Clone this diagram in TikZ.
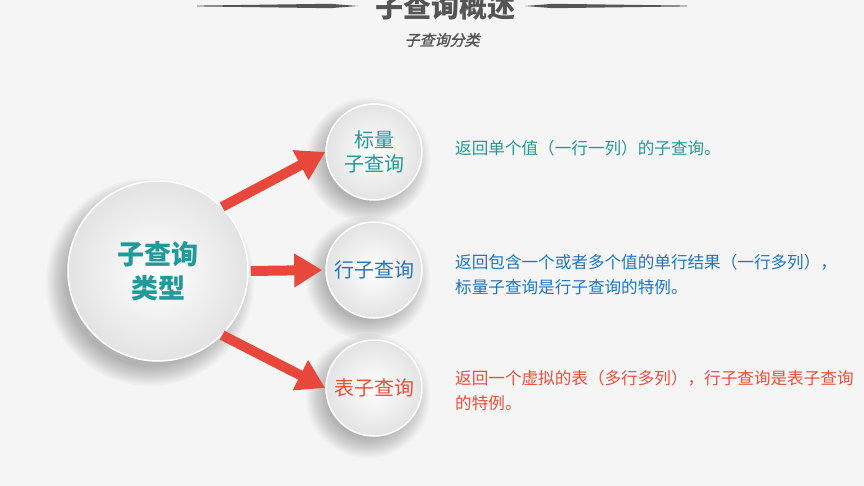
\documentclass[tikz,border=0pt]{standalone}
\usepackage{fontspec}
\setmainfont{Noto Sans CJK SC}
\newfontfamily\slantfont[FakeSlant=0.25,FakeBold=1.5]{Noto Sans CJK SC}
\usetikzlibrary{arrows.meta}
\definecolor{bgc}{HTML}{F5F5F5}
\definecolor{tealc}{HTML}{22999A}
\definecolor{bluec}{HTML}{1F76C2}
\definecolor{redc}{HTML}{EB4E3D}
\definecolor{arrc}{HTML}{E8483B}
\definecolor{titlec}{HTML}{555555}
\tikzset{
  circ/.style={circle, inner sep=0pt, draw=white, line width=1.5pt,
    inner color=white, outer color=black!11},
  bigc/.style={circ, minimum size=180pt},
  smallc/.style={circ, minimum size=96pt},
  arr/.style={draw=arrc, line width=10pt, -{Triangle[width=32pt,length=28pt]}},
  desc/.style={anchor=west, align=left, font=\fontsize{16.6}{25}\selectfont, inner sep=0pt},
  softshadow/.style={fill=black, opacity=0.022},
}
\newcommand\mysoftshadow[3]{%
  \foreach \k in {0,...,11}{%
    \fill[softshadow] (#1,#2) circle[radius={#3+14pt-\k*1.8pt}];
  }%
}
\begin{document}
\begin{tikzpicture}[x=1pt,y=-1pt]
\clip (0,0) rectangle (864,486);
\fill[bgc] (0,0) rectangle (864,486);
% title decorations
\fill[titlec] (197,5.6) -- (330,3.8) -- (358,6) -- (330,8.2) -- (197,6.4) -- cycle;
\fill[titlec] (687,5.6) -- (553,3.8) -- (525,6) -- (553,8.2) -- (687,6.4) -- cycle;
\node[font=\bfseries\fontsize{28}{30}\selectfont, text=titlec] (title) at (445,7) {子查询概述};
\node[font=\slantfont\fontsize{15}{18}\selectfont, text=titlec] (sub) at (442,40) {子查询分类};
% shadows
\mysoftshadow{150}{282}{90pt}
\mysoftshadow{368}{160}{48pt}
\mysoftshadow{368}{278}{48pt}
\mysoftshadow{368}{396}{48pt}
% circles
\node[bigc, align=center, font=\bfseries\fontsize{27}{34}\selectfont, text=tealc] (big) at (158,271) {子查询\\类型};
\node[smallc, align=center, font=\fontsize{20}{24}\selectfont, text=tealc] (s1) at (374,152) {标量\\子查询};
\node[smallc, font=\fontsize{20}{24}\selectfont, text=bluec] (s2) at (374,270) {行子查询};
\node[smallc, font=\fontsize{20}{24}\selectfont, text=redc] (s3) at (374,388) {表子查询};
% arrows
\draw[arr] (big.45) -- (s1.west);
\draw[arr, shorten <=2pt, shorten >=3pt] (big.east) -- (s2.west);
\draw[arr] (big.-45) -- (s3.west);
% descriptions
\node[desc, text=tealc] (d1) at (455,148) {返回单个值（一行一列）的子查询。};
\node[desc, text=bluec] (d2) at (455,274.5) {返回包含一个或者多个值的单行结果（一行多列），\\标量子查询是行子查询的特例。};
\node[desc, text=redc] (d3) at (455,390.5) {返回一个虚拟的表（多行多列），行子查询是表子查询\\的特例。};
\end{tikzpicture}
\end{document}
